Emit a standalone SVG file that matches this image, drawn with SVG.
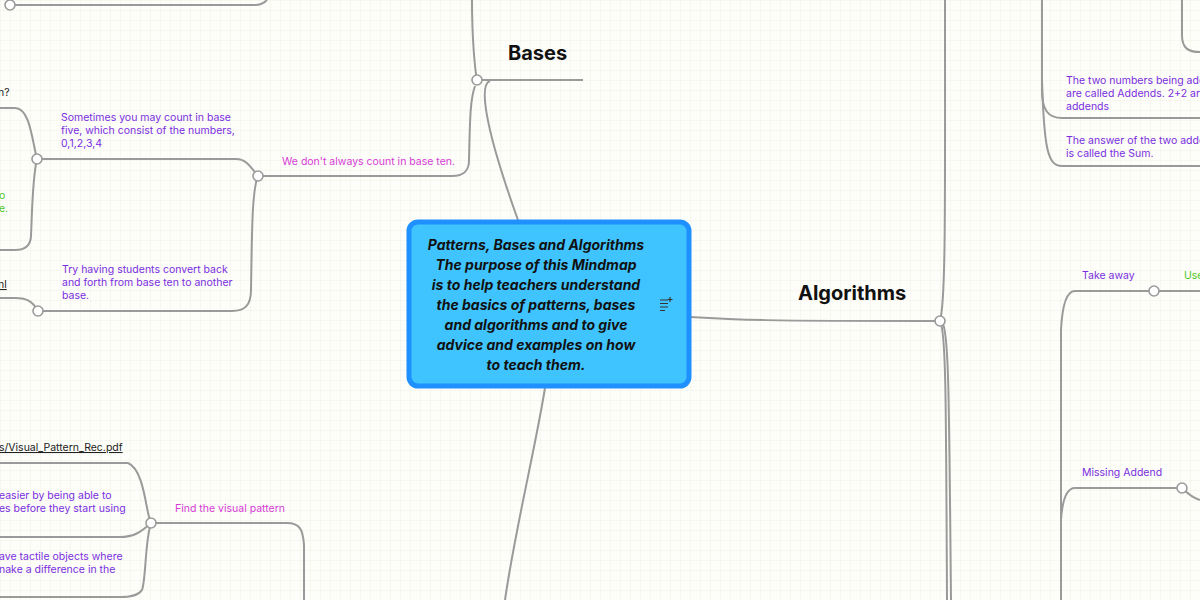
<svg xmlns="http://www.w3.org/2000/svg" width="1200" height="600" viewBox="0 0 1200 600">
<defs>
<pattern id="grid" width="10" height="10" patternUnits="userSpaceOnUse">
<path d="M10 0H0V10" fill="none" stroke="#eeeee2" stroke-width="0.8"/>
</pattern>
<style>
.c{fill:none;stroke:#9a9a9a;stroke-width:2}
.k{fill:#fff;stroke:#9a9a9a;stroke-width:1.6}
text{font-family:Inter,"Noto Sans",sans-serif}
.p{fill:#7a2ee0;font-size:10.5px}
.m{fill:#d63bd6;font-size:10.5px}
.g{fill:#4fc81c;font-size:10.5px}
.b{fill:#222;font-size:10.5px}
.u{text-decoration:underline}
.h{font-weight:bold;font-size:20px;fill:#111}
</style>
</defs>
<rect width="1200" height="600" fill="#fdfdf9"/>
<rect width="1200" height="600" fill="url(#grid)"/>
<g id="connectors">
<path class="c" d="M472 0C472 40 475 70 477 80"/>
<path class="c" d="M477 80H583"/>
<path class="c" d="M490 81C480 84 482 120 518 220"/>
<path class="c" d="M475 86C470 100 470 120 469 160C469 170 465 176 452 176H258"/>
<path class="c" d="M258 176C250 166 246 159 236 159H37"/>
<path class="c" d="M258 176C252 190 252 230 251 290C251 305 245 311 232 311H38"/>
<path class="c" d="M37 159C32 140 30 108 15 108H0"/>
<path class="c" d="M37 159C32 180 32 220 31 235C31 245 25 250 15 250H0"/>
<path class="c" d="M38 311C32 300 25 298 15 298H0"/>
<path class="c" d="M10 5H255C262 5 265 2 267 0"/>
<path class="c" d="M151 523H287C300 523 303 530 304 545V600"/>
<path class="c" d="M151 523C146 515 145 470 128 463H0"/>
<path class="c" d="M151 523C140 533 133 537 120 537H0"/>
<path class="c" d="M151 523C145 540 146 580 142 590C138 596 130 597 120 597H0"/>
<path class="c" d="M545 388C535 450 515 530 505 600"/>
<path class="c" d="M690 317C740 320 760 321 940 321"/>
<path class="c" d="M940 321C946 300 945 200 945 0"/>
<path class="c" d="M940 321C946 330 946 400 947 600"/>
<path class="c" d="M942 322C949 330 949 400 951 600"/>
<path class="c" d="M1042 0V90C1042 110 1048 118 1062 118H1200"/>
<path class="c" d="M1042 80C1044 150 1048 166 1062 166H1200"/>
<path class="c" d="M1182 0V35C1182 48 1188 52 1200 52"/>
<path class="c" d="M1154 291H1200"/>
<path class="c" d="M1154 291H1075C1065 291 1062 310 1061 330V600"/>
<path class="c" d="M1182 488H1075C1065 488 1062 505 1061 520"/>
<path class="c" d="M1182 488C1188 494 1193 498 1200 500"/>
</g>
<g id="dots">
<circle class="k" cx="477" cy="80" r="5"/>
<circle class="k" cx="258" cy="176" r="5"/>
<circle class="k" cx="37" cy="159" r="5"/>
<circle class="k" cx="38" cy="311" r="5"/>
<circle class="k" cx="10" cy="5" r="5"/>
<circle class="k" cx="151" cy="523" r="5"/>
<circle class="k" cx="940" cy="321" r="5"/>
<circle class="k" cx="1154" cy="291" r="5"/>
<circle class="k" cx="1182" cy="488" r="5"/>
</g>
<g id="central">
<rect x="409" y="222" width="280" height="164" rx="9" fill="#40c4ff" stroke="#1e90ff" stroke-width="5"/>
<g font-family="'Noto Sans',sans-serif" font-weight="bold" font-style="italic" font-size="14" fill="#111" text-anchor="middle">
<text x="536" y="250">Patterns, Bases and Algorithms</text>
<text x="536" y="270">The purpose of this Mindmap</text>
<text x="536" y="290">is to help teachers understand</text>
<text x="536" y="310">the basics of patterns, bases</text>
<text x="536" y="330">and algorithms and to give</text>
<text x="536" y="350">advice and examples on how</text>
<text x="536" y="370">to teach them.</text>
</g>
<g stroke="#333" stroke-width="1.2"><path d="M660 300H668M660 303.5H668M660 307H668M660 310.5H665M670 297V302M667.5 299.5H672.5"/></g>
</g>
<g id="bases"><text class="h" x="508" y="60">Bases</text></g>
<g id="algorithms"><text class="h" x="798" y="300">Algorithms</text></g>
<g id="base-ten"><text class="m" x="282" y="165">We don't always count in base ten.</text></g>
<g id="base-five"><text class="p" x="61" y="121">Sometimes you may count in base</text><text class="p" x="61" y="134">five, which consist of the numbers,</text><text class="p" x="61" y="147">0,1,2,3,4</text></g>
<g id="convert"><text class="p" x="62" y="273">Try having students convert back</text><text class="p" x="62" y="286">and forth from base ten to another</text><text class="p" x="62" y="299">base.</text></g>
<g id="edge-left">
<text class="b" x="-2" y="96">n?</text>
<text class="g" x="-1" y="199">o</text><text class="g" x="-1" y="212">e.</text>
<text class="b u" x="-2" y="288">nl</text>
</g>
<g id="visual"><text class="m" x="175" y="512">Find the visual pattern</text></g>
<g id="visual-kids">
<text class="b u" x="-1" y="451">s/Visual_Pattern_Rec.pdf</text>
<text class="p" x="-1" y="499">easier by being able to</text><text class="p" x="-1" y="512">es before they start using</text>
<text class="p" x="-1" y="560">ave tactile objects where</text><text class="p" x="-1" y="573">nake a difference in the</text>
</g>
<g id="addends"><text class="p" x="1066" y="84">The two numbers being add</text><text class="p" x="1066" y="97">are called Addends. 2+2 are</text><text class="p" x="1066" y="110">addends</text></g>
<g id="sum"><text class="p" x="1066" y="144">The answer of the two adde</text><text class="p" x="1066" y="157">is called the Sum.</text></g>
<g id="take-away"><text class="p" x="1082" y="279">Take away</text><text class="g" x="1184" y="279">Use</text></g>
<g id="missing"><text class="p" x="1082" y="476">Missing Addend</text></g>
</svg>
